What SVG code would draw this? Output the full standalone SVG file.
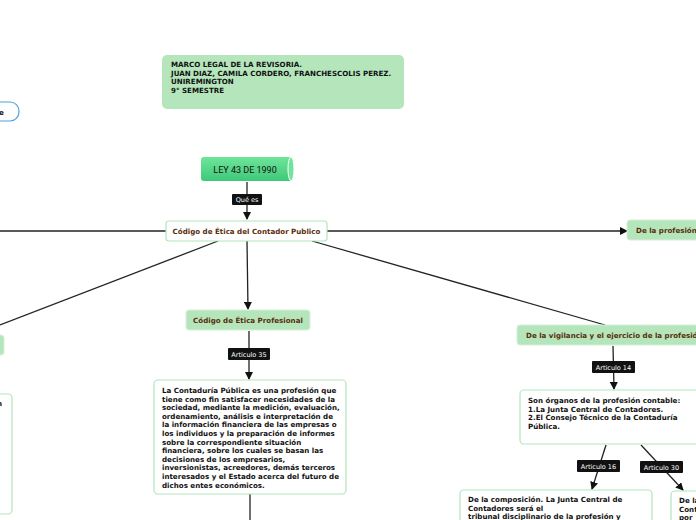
<svg xmlns="http://www.w3.org/2000/svg" width="696" height="520" viewBox="0 0 696 520">
<defs>
<marker id="ar" markerWidth="8" markerHeight="8" refX="7" refY="4" orient="auto" markerUnits="userSpaceOnUse"><path d="M0,0 L8,4 L0,8 z" fill="#111"/></marker>
<linearGradient id="g" x1="0" y1="0" x2="0" y2="1"><stop offset="0" stop-color="#6ee59a"/><stop offset="1" stop-color="#3fc878"/></linearGradient>
</defs>
<style>
.t{font-family:"DejaVu Sans",sans-serif;font-weight:bold;font-size:7.1px;fill:#111}
.g{fill:#b4e5bb;stroke:#d4f0d8;stroke-width:1}
.w{fill:#fff;stroke:#b4e5bb;stroke-width:1.2}
.b{font-family:"DejaVu Sans",sans-serif;font-weight:bold;font-size:7.1px;fill:#5a2d0c}
.l{fill:#111}
.lt{font-family:"DejaVu Sans",sans-serif;font-size:6.5px;fill:#fff;text-anchor:middle}
.c{stroke:#222;stroke-width:1.3;fill:none}
</style>
<rect width="696" height="520" fill="#fff"/>
<g id="connectors">
<line class="c" x1="247" y1="182" x2="247" y2="219" marker-end="url(#ar)"/>
<line class="c" x1="0" y1="231" x2="166" y2="231"/>
<line class="c" x1="327" y1="231" x2="627" y2="231" marker-end="url(#ar)"/>
<line class="c" x1="218" y1="241" x2="0" y2="325"/>
<line class="c" x1="247" y1="241" x2="248" y2="309" marker-end="url(#ar)"/>
<line class="c" x1="312" y1="241" x2="605" y2="325"/>
<line class="c" x1="249" y1="331" x2="249" y2="379" marker-end="url(#ar)"/>
<line class="c" x1="250" y1="494" x2="250" y2="520"/>
<line class="c" x1="613" y1="346" x2="614" y2="389" marker-end="url(#ar)"/>
<line class="c" x1="606" y1="445" x2="592" y2="489" marker-end="url(#ar)"/>
<line class="c" x1="641" y1="445" x2="683" y2="490" marker-end="url(#ar)"/>
</g>
<g id="top-left"><rect x="-20" y="102" width="39" height="19" rx="9" fill="#fff" stroke="#4aa3e0" stroke-width="1.2"/><text class="t" x="-1" y="114.5">e</text></g>
<g id="title"><rect x="162" y="55" width="242" height="54" rx="5" fill="#b4e5bb"/>
<text class="t" x="171" y="67">MARCO LEGAL DE LA REVISORIA.</text>
<text class="t" x="171" y="75.5">JUAN DIAZ, CAMILA CORDERO, FRANCHESCOLIS PEREZ.</text>
<text class="t" x="171" y="84">UNIREMINGTON</text>
<text class="t" x="171" y="92.5">9° SEMESTRE</text></g>
<g id="ley"><rect x="201" y="157" width="92" height="24" rx="3" fill="url(#g)"/><ellipse cx="291" cy="169" rx="3" ry="12" fill="#6ee59a" stroke="#fff" stroke-width="1"/>
<text x="245" y="173" font-family="Roboto,sans-serif" font-size="9" text-anchor="middle" fill="#111">LEY 43 DE 1990</text></g>
<g id="lbl-que"><rect x="232" y="194" width="30" height="11" rx="1" class="l"/><text class="lt" x="247" y="202">Qué es</text></g>
<g id="codigo"><rect class="w" x="166" y="221" width="161" height="20" rx="3"/><text class="b" x="246.5" y="234" text-anchor="middle">Código de Ética del Contador Publico</text></g>
<g id="delaprof"><rect class="g" x="627" y="220" width="80" height="20" rx="3"/><text class="b" x="636" y="233">De la profesión</text></g>
<g id="left-node"><rect class="g" x="-30" y="335" width="34" height="20" rx="3"/></g>
<g id="left-box"><rect class="w" x="-100" y="394" width="112" height="120" rx="4"/><text class="t" x="-3" y="406">n</text></g>
<g id="etica"><rect class="g" x="186" y="310" width="124" height="20" rx="3"/><text class="b" x="248" y="323" text-anchor="middle">Código de Ética Profesional</text></g>
<g id="lbl35"><rect x="228" y="348" width="42" height="12" rx="1" class="l"/><text class="lt" x="249" y="356.5">Articulo 35</text></g>
<g id="art35"><rect class="w" x="154" y="380" width="192" height="114" rx="4"/>
<text class="t" x="162" y="393">La Contaduría Pública es una profesión que</text>
<text class="t" x="162" y="401.6">tiene como fin satisfacer  necesidades  de la</text>
<text class="t" x="162" y="410.2">sociedad, mediante la medición, evaluación,</text>
<text class="t" x="162" y="418.8">ordenamiento, análisis e interpretación de</text>
<text class="t" x="162" y="427.4">la información financiera de las  empresas o</text>
<text class="t" x="162" y="436">los individuos y  la preparación de informes</text>
<text class="t" x="162" y="444.6">sobre la correspondiente situación</text>
<text class="t" x="162" y="453.2">financiera, sobre los  cuales se basan las</text>
<text class="t" x="162" y="461.8">decisiones de los  empresarios,</text>
<text class="t" x="162" y="470.4">inversionistas, acreedores, demás terceros</text>
<text class="t" x="162" y="479">interesados y  el Estado acerca del futuro de</text>
<text class="t" x="162" y="487.6">dichos entes económicos.</text></g>
<g id="vigilancia"><rect class="g" x="517" y="325" width="200" height="20" rx="3"/><text class="b" x="526" y="338">De la vigilancia y el ejercicio de la profesión</text></g>
<g id="lbl14"><rect x="592" y="361" width="43" height="12" rx="1" class="l"/><text class="lt" x="613.5" y="369.5">Articulo 14</text></g>
<g id="organos"><rect class="w" x="520" y="390" width="190" height="54" rx="4"/>
<text class="t" x="528" y="403">Son órganos de la profesión contable:</text>
<text class="t" x="528" y="411.6">1.La Junta Central de Contadores.</text>
<text class="t" x="528" y="420.2">2.El Consejo Técnico de la Contaduría</text>
<text class="t" x="528" y="428.8">Pública.</text></g>
<g id="lbl16"><rect x="577" y="460" width="43" height="12" rx="1" class="l"/><text class="lt" x="598.5" y="468.5">Articulo 16</text></g>
<g id="lbl30"><rect x="640" y="461" width="43" height="12" rx="1" class="l"/><text class="lt" x="661.5" y="469.5">Articulo 30</text></g>
<g id="composicion"><rect class="w" x="460" y="490" width="192" height="40" rx="4"/>
<text class="t" x="468" y="502">De la composición. La Junta Central de</text>
<text class="t" x="468" y="510.6">Contadores será el</text>
<text class="t" x="468" y="519.2">tribunal disciplinario de la profesión y</text></g>
<g id="art30"><rect class="w" x="671" y="491" width="60" height="40" rx="4"/>
<text class="t" x="679" y="503">De la</text><text class="t" x="679" y="511.6">Cont</text><text class="t" x="679" y="520.2">por</text></g>
</svg>
